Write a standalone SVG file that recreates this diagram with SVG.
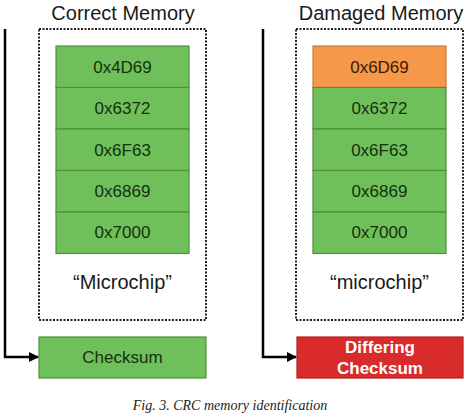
<svg xmlns="http://www.w3.org/2000/svg" width="474" height="415" viewBox="0 0 474 415">
<style>
.t{font-family:"Liberation Sans",Arial,sans-serif;fill:#1a1a1a;text-anchor:middle}
.title{font-size:20px}
.cell{fill:#6fc05a;stroke:#4f8f3c;stroke-width:1.2}
.bad{fill:#f6984a;stroke:#c77a3a;stroke-width:1.2}
.ct{font-family:"Liberation Sans",Arial,sans-serif;font-size:17px;fill:#15300e;text-anchor:middle}
.box{fill:none;stroke:#222;stroke-width:2;stroke-dasharray:2 1.5}
.conn{fill:none;stroke:#000;stroke-width:2.5}
</style>
<defs>
<marker id="ah" markerWidth="10" markerHeight="10" refX="9" refY="5" orient="auto" markerUnits="userSpaceOnUse">
<path d="M0,0 L10,5 L0,10 Z" fill="#000"/>
</marker>
</defs>
<rect width="474" height="415" fill="#fff"/>
<g id="left-memory">
<text class="t title" x="123" y="20">Correct Memory</text>
<rect class="box" x="39" y="29" width="167" height="291"/>
<rect class="cell" x="56" y="46" width="133" height="41.5"/>
<text class="ct" x="122.5" y="73">0x4D69</text>
<rect class="cell" x="56" y="87.5" width="133" height="41.5"/>
<text class="ct" x="122.5" y="114">0x6372</text>
<rect class="cell" x="56" y="129" width="133" height="41.5"/>
<text class="ct" x="122.5" y="156">0x6F63</text>
<rect class="cell" x="56" y="170.5" width="133" height="41.5"/>
<text class="ct" x="122.5" y="197">0x6869</text>
<rect class="cell" x="56" y="212" width="133" height="41.5"/>
<text class="ct" x="122.5" y="238">0x7000</text>
<text class="t title" x="122.5" y="289">“Microchip”</text>
</g>
<g id="right-memory">
<text class="t title" x="381" y="20">Damaged Memory</text>
<rect class="box" x="296" y="29" width="167" height="291"/>
<rect class="bad" x="313" y="46" width="133" height="41.5"/>
<text class="ct" x="379.5" y="73" style="fill:#3a1a08">0x6D69</text>
<rect class="cell" x="313" y="87.5" width="133" height="41.5"/>
<text class="ct" x="379.5" y="114">0x6372</text>
<rect class="cell" x="313" y="129" width="133" height="41.5"/>
<text class="ct" x="379.5" y="156">0x6F63</text>
<rect class="cell" x="313" y="170.5" width="133" height="41.5"/>
<text class="ct" x="379.5" y="197">0x6869</text>
<rect class="cell" x="313" y="212" width="133" height="41.5"/>
<text class="ct" x="379.5" y="238">0x7000</text>
<text class="t title" x="379.5" y="289">“microchip”</text>
</g>
<g id="checksum">
<rect class="cell" x="39" y="337" width="167" height="41"/>
<text class="ct" x="122.5" y="363">Checksum</text>
</g>
<g id="differing-checksum">
<rect x="297" y="337" width="166" height="41" fill="#d92b2b" stroke="#b51f1f" stroke-width="1.2"/>
<text class="t" x="380" y="353" style="font-size:17px;font-weight:bold;fill:#fff">Differing</text>
<text class="t" x="380" y="374" style="font-size:17px;font-weight:bold;fill:#fff">Checksum</text>
</g>
<g id="connectors">
<path class="conn" d="M5,29 V357 H38" marker-end="url(#ah)"/>
<path class="conn" d="M263,29 V357 H296" marker-end="url(#ah)"/>
</g>
<text x="230" y="410" style="font-family:'Liberation Serif',serif;font-style:italic;font-size:14px;fill:#222;text-anchor:middle">Fig. 3. CRC memory identification</text>
</svg>
